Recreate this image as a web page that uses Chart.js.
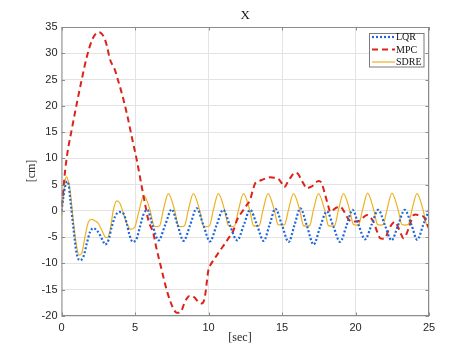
<!DOCTYPE html>
<html>
<head>
<meta charset="utf-8">
<script src="https://cdn.jsdelivr.net/npm/chart.js@4/dist/chart.umd.min.js"></script>
<style>
  html, body { margin: 0; padding: 0; background: #ffffff; }
  #wrap { width: 474px; height: 355px; position: relative; }
</style>
</head>
<body>
<div id="wrap"><canvas id="c" width="474" height="355"></canvas></div>
<script>
// ---- data ----
const titleText = 'X';
const xLabel = '[sec]';
const yLabel = '[cm]';
const seriesNames = ['LQR', 'MPC', 'SDRE'];
const xTicks = [0, 5, 10, 15, 20, 25];
const yTicks = [-20, -15, -10, -5, 0, 5, 10, 15, 20, 25, 30, 35];

const lqrT = [0, 0.12, 0.24, 0.4, 0.5, 0.58, 0.8, 1.03, 1.26, 1.49, 1.72, 1.94, 2.17, 2.4, 2.62, 2.85, 2.96, 3.19, 3.42, 3.64, 3.94, 4.21, 4.44, 4.66, 4.85, 5.12, 5.34, 5.6, 5.84,
  6.2, 6.6, 7.05, 7.5, 7.9, 8.3, 8.75, 9.2, 9.65, 10.1, 10.55, 11.0, 11.45, 11.95, 12.4, 12.83, 13.3, 13.75, 14.15, 14.55,
  15.0, 15.45, 15.85, 16.25, 16.7, 17.15, 17.6, 18.05, 18.5, 18.95, 19.4, 19.8, 20.2, 20.65, 21.1, 21.55, 22.0, 22.45, 22.9, 23.35, 23.8, 24.2, 24.6, 25.0];
const lqrV = [0, 2.5, 4.6, 5.6, 4.8, 2.7, -3.0, -8.1, -9.4, -8.7, -6.2, -4.0, -3.3, -3.7, -4.6, -5.9, -6.4, -5.6, -3.0, -1.1, -0.2, -0.5, -2.4, -4.9, -5.9, -5.2, -3.0, -0.5, 0.2,
  -2.8, -5.6, -2.7, 0.3, -2.7, -5.7, -2.7, 0.5, -2.7, -5.8, -2.7, 0.2, -2.7, -5.6, -2.7, 0.2, -2.7, -5.7, -2.7, 0.4,
  -2.7, -5.9, -2.7, 0.5, -2.9, -6.4, -3.0, -0.1, -3.0, -5.9, -2.7, 0.2, -2.6, -5.4, -2.6, 0.2, -2.7, -5.6, -2.7, 0.2, -2.6, -5.5, -2.7, 0.2];

const mpcT = [0, 0.12, 0.24, 0.4, 0.69, 1.03, 1.37, 1.71, 2.06, 2.3, 2.55, 2.74, 2.9, 3.08, 3.3, 3.5, 3.64, 3.8, 4.1, 4.44, 4.78, 5.12, 5.46, 5.68, 5.91,
  6.25, 6.45, 6.7, 6.95, 7.16, 7.4, 7.61, 7.84, 8.0, 8.18, 8.35, 8.52, 8.7, 8.86, 9.05, 9.3, 9.54, 9.7, 9.8, 9.9, 9.99, 10.15, 10.33, 10.55, 10.79,
  11.1, 11.36, 11.7, 11.93, 12.15, 12.38, 12.6, 12.83, 13.0, 13.17, 13.4, 13.63, 13.9, 14.19, 14.5, 14.76, 14.95, 15.1, 15.2, 15.33, 15.55, 15.75, 15.9,
  16.1, 16.3, 16.46, 16.69, 16.9, 17.14, 17.3, 17.48, 17.6, 17.71, 17.94, 18.16, 18.28, 18.45, 18.62, 18.8, 18.96, 19.2, 19.41, 19.6, 19.76, 20.0,
  20.32, 20.55, 20.78, 21.0, 21.23, 21.45, 21.68, 21.85, 22.02, 22.2, 22.36, 22.55, 22.7, 22.88, 23.04, 23.27, 23.45, 23.61, 23.8, 23.95, 24.1,
  24.29, 24.45, 24.63, 24.8, 25.0];
const mpcV = [1.0, 4.0, 7.5, 11.0, 15.4, 20.3, 24.9, 29.2, 32.4, 33.6, 34.0, 33.7, 33.0, 31.5, 28.8, 27.6, 26.8, 25.3, 22.4, 18.6, 14.1, 9.7, 4.6, 1.4, -1.8,
  -4.3, -7.0, -9.9, -12.8, -15.1, -17.2, -18.6, -19.4, -19.4, -18.9, -17.6, -16.7, -16.2, -16.2, -16.5, -17.3, -17.6, -17.0, -15.5, -13.2, -11.3, -10.2, -9.4, -8.5, -7.5,
  -6.3, -5.2, -3.7, -1.8, -0.7, 0.2, 1.1, 2.1, 3.8, 5.2, 5.6, 5.9, 6.2, 6.4, 6.3, 6.1, 5.4, 4.6, 4.6, 5.2, 6.2, 7.0, 7.3,
  7.0, 6.0, 5.2, 4.3, 4.5, 4.9, 5.4, 5.7, 5.6, 5.2, 3.0, 0.8, -0.2, 0.1, 0.5, 0.7, 0.8, 0.0, -1.1, -1.8, -2.1, -2.0,
  -1.8, -1.2, -0.8, -1.2, -2.1, -3.8, -5.2, -5.3, -5.2, -4.0, -3.0, -2.3, -2.1, -3.0, -4.0, -5.2, -4.5, -3.3, -1.8, -0.8, -0.7,
  -0.8, -0.9, -1.1, -2.0, -3.4];

const sdreT = [0, 0.12, 0.25, 0.35, 0.45, 0.58, 0.8, 1.03, 1.19, 1.37, 1.6, 1.83, 2.06, 2.28, 2.51, 2.74, 2.96, 3.12, 3.3, 3.53, 3.76, 3.98, 4.21, 4.44, 4.71, 5.0, 5.23, 5.6,
  6.02, 6.28, 6.48, 6.68, 6.93, 7.27,
  7.69, 7.95, 8.15, 8.37, 8.63, 8.97,
  9.39, 9.65, 9.85, 10.07, 10.33, 10.67,
  11.09, 11.35, 11.55, 11.78, 12.04, 12.38,
  12.8, 13.06, 13.26, 13.45, 13.71, 14.05,
  14.47, 14.73, 14.93, 15.18, 15.44, 15.78,
  16.2, 16.46, 16.66, 16.88, 17.14, 17.48,
  17.9, 18.16, 18.36, 18.58, 18.84, 19.18,
  19.6, 19.86, 20.06, 20.22, 20.48, 20.82,
  21.24, 21.5, 21.7, 21.88, 22.14, 22.48,
  22.9, 23.16, 23.36, 23.58, 23.84, 24.18,
  24.6, 24.86, 25.0];
const sdreV = [-1.1, 2.5, 5.8, 6.5, 5.8, 4.0, -1.8, -6.8, -8.4, -8.1, -4.9, -2.1, -1.6, -1.9, -2.4, -3.7, -4.9, -5.1, -3.7, 0.2, 1.9, 1.4, -0.5, -2.4, -3.5, -3.0, -0.5, 2.9,
  0.2, -2.8, -3.0, -2.8, 0.2, 3.3,
  0.2, -2.8, -3.0, -2.8, 0.2, 3.3,
  0.2, -2.8, -3.0, -2.8, 0.2, 3.3,
  0.2, -2.8, -3.0, -2.8, 0.2, 3.3,
  0.2, -2.8, -2.9, -2.8, 0.2, 3.3,
  0.2, -2.6, -2.7, -2.6, 0.2, 3.3,
  0.2, -2.8, -2.9, -2.8, 0.2, 3.3,
  0.2, -2.8, -2.9, -2.8, 0.2, 3.3,
  0.2, -2.6, -2.7, -2.6, 0.2, 3.4,
  0.2, -2.6, -2.7, -2.6, 0.2, 3.4,
  0.2, -2.6, -2.7, -2.6, 0.2, 3.3,
  0.2, -2.8, -3.0];

// ---- styles ----
const colors = ['#1f66dc', '#dc231b', '#EDB120'];

function pts(ts, vs) { return ts.map((t, i) => ({ x: t, y: vs[i] })); }

const frameAndLegend = {
  id: 'frameAndLegend',
  afterDraw(chart) {
    const ctx = chart.ctx;
    const a = chart.chartArea;
    const xs = chart.scales.x, ys = chart.scales.y;
    ctx.save();
    // frame
    ctx.strokeStyle = '#8c8c8c';
    ctx.lineWidth = 1;
    ctx.strokeRect(a.left + 0.5, a.top + 0.5, a.right - a.left - 1, a.bottom - a.top - 1);
    // inward ticks
    ctx.beginPath();
    xTicks.forEach(v => {
      const px = Math.round(xs.getPixelForValue(v)) + 0.5;
      ctx.moveTo(px, a.bottom); ctx.lineTo(px, a.bottom - 3.5);
      ctx.moveTo(px, a.top); ctx.lineTo(px, a.top + 3.5);
    });
    yTicks.forEach(v => {
      const py = Math.round(ys.getPixelForValue(v)) + 0.5;
      ctx.moveTo(a.left, py); ctx.lineTo(a.left + 3.5, py);
      ctx.moveTo(a.right, py); ctx.lineTo(a.right - 3.5, py);
    });
    ctx.stroke();

    // title and axis labels
    ctx.fillStyle = '#111111';
    ctx.textAlign = 'center';
    ctx.textBaseline = 'middle';
    ctx.font = '13px "Liberation Serif", "Times New Roman", serif';
    ctx.fillText(titleText, (a.left + a.right) / 2, 16);
    ctx.font = '12px "Liberation Serif", "Times New Roman", serif';
    ctx.fillStyle = '#262626';
    ctx.fillText(xLabel, 240, 338);
    ctx.save();
    ctx.translate(32, 171);
    ctx.rotate(-Math.PI / 2);
    ctx.fillText(yLabel, 0, 0);
    ctx.restore();

    // legend
    const lx = 369.5, ly = 33.5, lw = 54.5, lh = 33.5;
    ctx.fillStyle = '#ffffff';
    ctx.fillRect(lx, ly, lw, lh);
    ctx.strokeStyle = '#7a7a7a';
    ctx.lineWidth = 1;
    ctx.strokeRect(lx, ly, lw, lh);
    const rows = [37, 49.5, 62];
    chart.data.datasets.forEach((ds, i) => {
      const y = rows[i];
      ctx.save();
      ctx.strokeStyle = ds.borderColor;
      ctx.lineWidth = ds.borderWidth;
      ctx.setLineDash(ds.borderDash || []);
      ctx.beginPath();
      ctx.moveTo(372, y); ctx.lineTo(395, y);
      ctx.stroke();
      ctx.restore();
      ctx.fillStyle = '#111111';
      ctx.textAlign = 'left';
      ctx.textBaseline = 'middle';
      ctx.font = '10px "Liberation Serif", "Times New Roman", serif';
      ctx.fillText(ds.label, 396, y + 0.5);
    });
    ctx.restore();
  }
};

new Chart(document.getElementById('c'), {
  type: 'line',
  data: {
    datasets: [
      { label: seriesNames[0], data: pts(lqrT, lqrV), borderColor: colors[0], borderWidth: 2.2, borderDash: [2, 2], cubicInterpolationMode: 'monotone', pointRadius: 0, fill: false },
      { label: seriesNames[1], data: pts(mpcT, mpcV), borderColor: colors[1], borderWidth: 2, borderDash: [6, 4], cubicInterpolationMode: 'monotone', pointRadius: 0, fill: false },
      { label: seriesNames[2], data: pts(sdreT, sdreV), borderColor: colors[2], borderWidth: 1.2, cubicInterpolationMode: 'monotone', pointRadius: 0, fill: false }
    ]
  },
  options: {
    responsive: false,
    animation: false,
    devicePixelRatio: 1,
    layout: { padding: { left: 0, top: 27, right: 45, bottom: 0 } },
    plugins: { legend: { display: false }, title: { display: false }, tooltip: { enabled: false } },
    scales: {
      x: {
        type: 'linear', min: 0, max: 25,
        afterBuildTicks(s) { s.ticks = xTicks.map(v => ({ value: v })); },
        afterFit(s) { s.height = 39; },
        grid: { color: '#e3e3e3', lineWidth: 1, drawTicks: false },
        border: { display: false },
        ticks: { padding: 5, color: '#262626', font: { family: '"Liberation Sans", Arial, sans-serif', size: 11 }, maxRotation: 0 }
      },
      y: {
        type: 'linear', min: -20, max: 35,
        afterBuildTicks(s) { s.ticks = yTicks.map(v => ({ value: v })); },
        afterFit(s) { s.width = 61.5; },
        grid: { color: '#e3e3e3', lineWidth: 1, drawTicks: false },
        border: { display: false },
        ticks: { padding: 4, color: '#262626', font: { family: '"Liberation Sans", Arial, sans-serif', size: 11 } }
      }
    }
  },
  plugins: [frameAndLegend]
});
</script>
</body>
</html>
